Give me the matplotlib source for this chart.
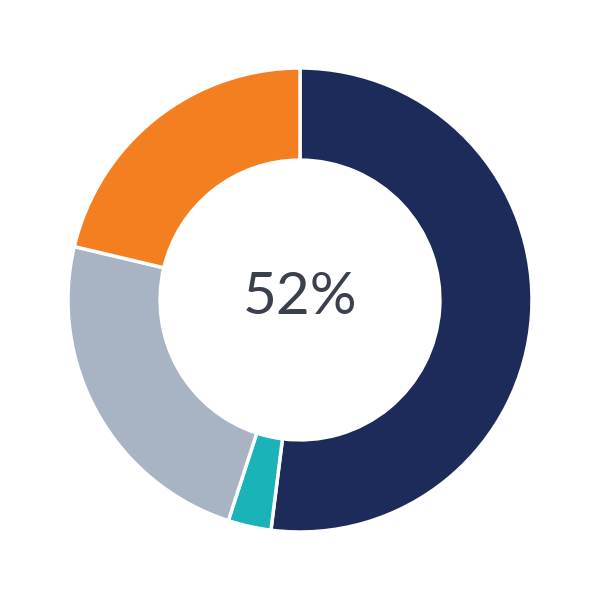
import matplotlib.pyplot as plt

# slice shares, clockwise from the top
labels = ['Navy', 'Teal', 'Grey', 'Orange']
shares = [52, 3, 23.7, 21.3]
colors = ['#1c2b5a', '#1ab3b7', '#a8b3c3', '#f37f20']
center_text = '52%'

fig = plt.figure(figsize=(6, 6), dpi=100)
ax = fig.add_axes([0, 0, 1, 1])

ax.pie(shares, colors=colors, startangle=90, counterclock=False,
       radius=1.0,
       wedgeprops=dict(width=0.397, edgecolor='white', linewidth=2.5))

ax.text(0, 0.01, center_text, ha='center', va='center', fontsize=42,
        family=['Lato', 'DejaVu Sans'], fontweight='normal', color='#3a404c')

lim = 300 / 232
ax.set_xlim(-lim, lim)
ax.set_ylim(-lim, lim)
ax.set_aspect('equal')
ax.axis('off')

fig.savefig('out.png', dpi=100, facecolor='white')
